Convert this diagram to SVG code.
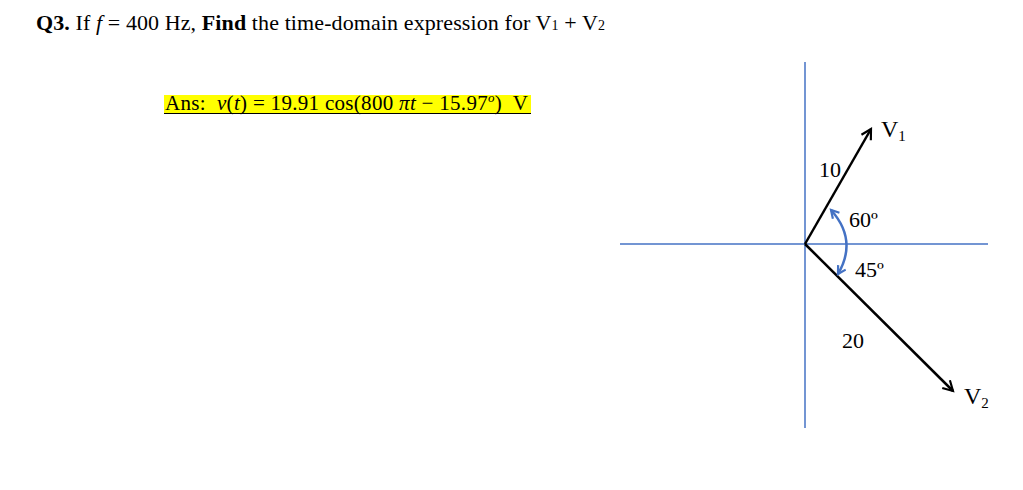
<svg xmlns="http://www.w3.org/2000/svg" width="1023" height="490" viewBox="0 0 1023 490">
<style>
text{font-family:"Liberation Serif","Times New Roman",serif;fill:#000}
.ax{stroke:#4472c4;stroke-width:1.5;fill:none}
.vec{stroke:#000;stroke-width:2.5;fill:none}
.arc{stroke:#4472c4;stroke-width:2.5;fill:none}
</style>
<defs>
<marker id="ah" viewBox="0 0 12 12" refX="10" refY="6" markerWidth="13" markerHeight="13" markerUnits="userSpaceOnUse" orient="auto">
<path d="M1,1 L10,6 L1,11" fill="none" stroke="#000" stroke-width="2"/>
</marker>
<marker id="bh" viewBox="0 0 10 10" refX="8" refY="5" markerWidth="11" markerHeight="11" markerUnits="userSpaceOnUse" orient="auto">
<path d="M1,1 L8,5 L1,9" fill="none" stroke="#4472c4" stroke-width="2"/>
</marker>
<marker id="bs" viewBox="0 0 10 10" refX="8" refY="5" markerWidth="11" markerHeight="11" markerUnits="userSpaceOnUse" orient="auto-start-reverse">
<path d="M1,1 L8,5 L1,9" fill="none" stroke="#4472c4" stroke-width="2"/>
</marker>
</defs>
<g id="title">
<text x="36" y="30" font-size="22" textLength="569" lengthAdjust="spacing"><tspan font-weight="bold">Q3.</tspan> If <tspan font-style="italic">f</tspan> = 400 Hz, <tspan font-weight="bold">Find</tspan> the time-domain expression for V<tspan font-size="14">1</tspan> + V<tspan font-size="14">2</tspan></text>
</g>
<g id="answer">
<rect x="164" y="95" width="367" height="19" fill="#ffff00"/>
<text x="165" y="110" font-size="21" xml:space="preserve" textLength="363" lengthAdjust="spacing">Ans:  <tspan font-style="italic">v</tspan>(<tspan font-style="italic">t</tspan>) = 19.91 cos(800 <tspan font-style="italic">πt</tspan> − 15.97<tspan font-size="13" dy="-8" font-style="italic">o</tspan><tspan dy="8">)  V</tspan></text>
<line x1="164" y1="113.5" x2="531" y2="113.5" stroke="#000" stroke-width="1.2"/>
</g>
<g id="axes">
<line class="ax" x1="805" y1="62" x2="805" y2="428"/>
<line class="ax" x1="620" y1="244" x2="988" y2="244"/>
</g>
<g id="connectors">
<line id="v1" class="vec" x1="805" y1="244" x2="871" y2="129" marker-end="url(#ah)"/>
<line id="v2" class="vec" x1="805" y1="244" x2="953" y2="391" marker-end="url(#ah)"/>
<path id="angles" class="arc" d="M831,210 Q858,240 838,274" marker-start="url(#bs)" marker-end="url(#bh)"/>
</g>
<g id="labels" font-size="22">
<text x="881" y="137" font-size="24">V<tspan font-size="15" dy="4">1</tspan></text>
<text x="819" y="177">10</text>
<text x="849" y="227">60º</text>
<text x="855" y="277">45º</text>
<text x="842" y="348">20</text>
<text x="964" y="404" font-size="24">V<tspan font-size="15" dy="4">2</tspan></text>
</g>
</svg>
